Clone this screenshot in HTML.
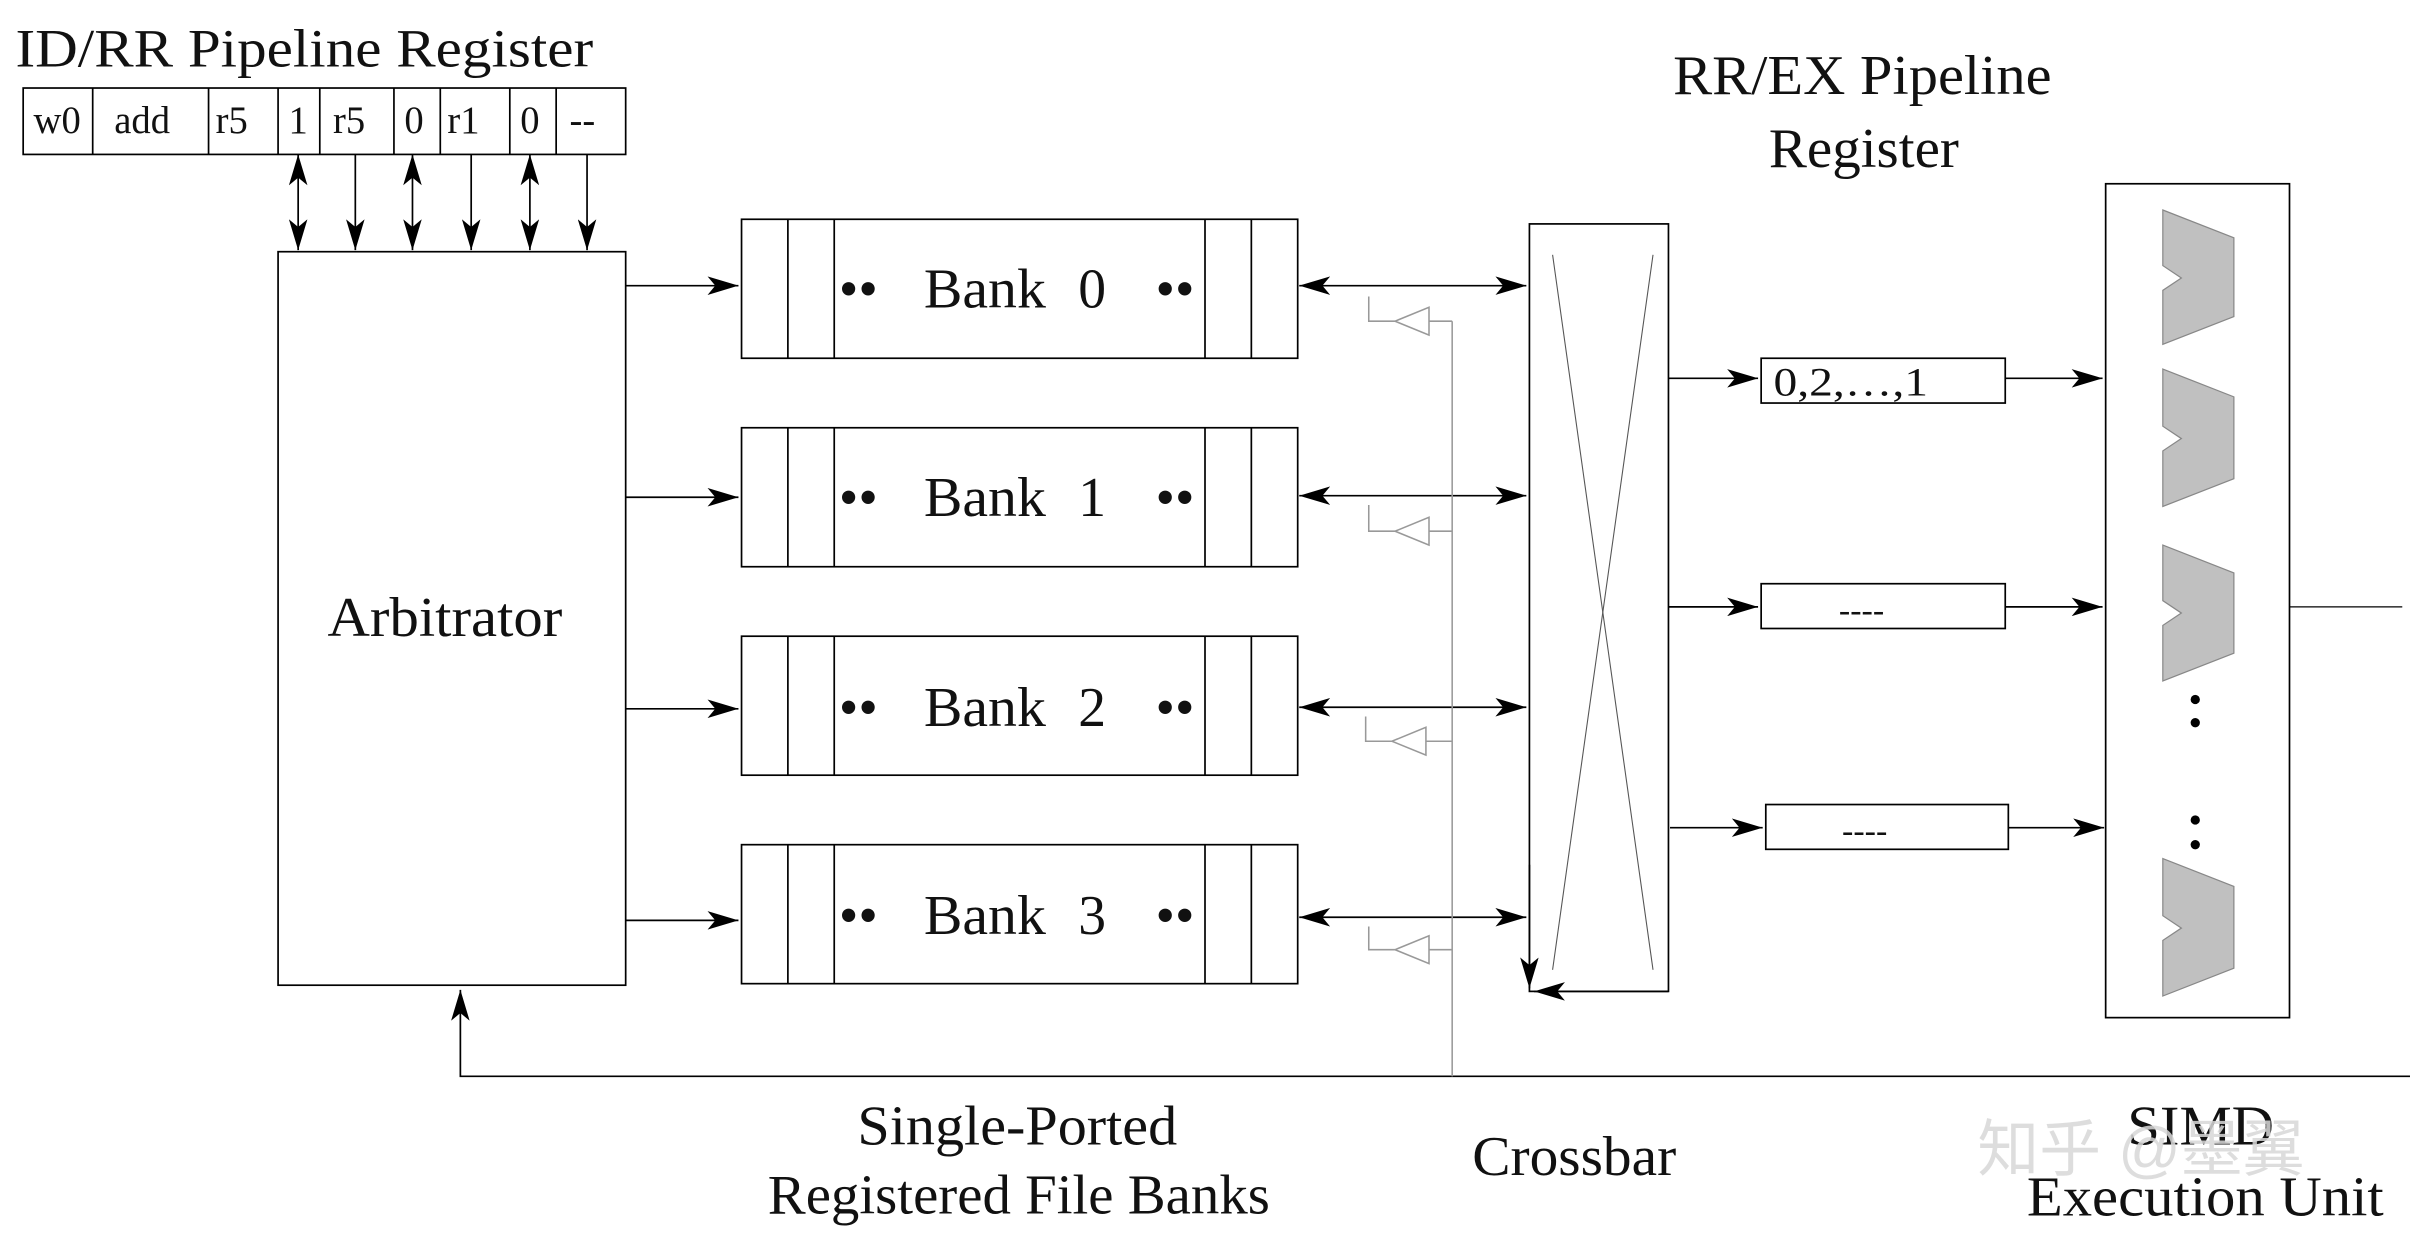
<!DOCTYPE html>
<html><head><meta charset="utf-8"><style>
html,body{margin:0;padding:0;background:#fff;}
svg{display:block;}
text{font-family:"Liberation Serif",serif;fill:#111;}
</style></head><body>
<svg width="2410" height="1240" viewBox="0 0 1560 803" preserveAspectRatio="none" xmlns="http://www.w3.org/2000/svg">
<defs>
<marker id="a" viewBox="0 0 20 12" refX="20" refY="6" markerWidth="20" markerHeight="12" markerUnits="userSpaceOnUse" orient="auto-start-reverse">
<path d="M0,0 L20,6 L0,12 L5,6 Z" fill="#000"/>
</marker>
</defs>
<g stroke="#000" stroke-width="1.1" fill="none">
<rect x="15" y="57" width="390" height="43"/>
<path d="M60,57V100M135,57V100M180,57V100M207,57V100M255,57V100M285,57V100M330,57V100M360,57V100"/>
<line x1="193" y1="100" x2="193" y2="162" marker-start="url(#a)" marker-end="url(#a)"/>
<line x1="230" y1="100" x2="230" y2="162" marker-end="url(#a)"/>
<line x1="267" y1="100" x2="267" y2="162" marker-start="url(#a)" marker-end="url(#a)"/>
<line x1="305" y1="100" x2="305" y2="162" marker-end="url(#a)"/>
<line x1="343" y1="100" x2="343" y2="162" marker-start="url(#a)" marker-end="url(#a)"/>
<line x1="380" y1="100" x2="380" y2="162" marker-end="url(#a)"/>
<rect x="180" y="163" width="225" height="475"/>
<g id="bk">
<rect x="480" y="142" width="360" height="90"/>
<path d="M510,142V232M540,142V232M780,142V232M810,142V232"/>
</g>
<use href="#bk" y="135"/><use href="#bk" y="270"/><use href="#bk" y="405"/>
<line x1="405" y1="185" x2="478" y2="185" marker-end="url(#a)"/>
<line x1="405" y1="322" x2="478" y2="322" marker-end="url(#a)"/>
<line x1="405" y1="459" x2="478" y2="459" marker-end="url(#a)"/>
<line x1="405" y1="596" x2="478" y2="596" marker-end="url(#a)"/>
<line x1="841" y1="185" x2="988" y2="185" marker-start="url(#a)" marker-end="url(#a)"/>
<line x1="841" y1="321" x2="988" y2="321" marker-start="url(#a)" marker-end="url(#a)"/>
<line x1="841" y1="458" x2="988" y2="458" marker-start="url(#a)" marker-end="url(#a)"/>
<line x1="841" y1="594" x2="988" y2="594" marker-start="url(#a)" marker-end="url(#a)"/>
<polyline points="1560,697 298,697 298,641" marker-end="url(#a)"/>
<rect x="990" y="145" width="90" height="497"/>
<line x1="990" y1="560" x2="990" y2="640" marker-end="url(#a)"/>
<line x1="1080" y1="642" x2="993" y2="642" marker-end="url(#a)"/>
<line x1="1080" y1="245" x2="1138" y2="245" marker-end="url(#a)"/>
<line x1="1080" y1="393" x2="1138" y2="393" marker-end="url(#a)"/>
<line x1="1081" y1="536" x2="1141" y2="536" marker-end="url(#a)"/>
<rect x="1140" y="232" width="158" height="29"/>
<rect x="1140" y="378" width="158" height="29"/>
<rect x="1143" y="521" width="157" height="29"/>
<line x1="1298" y1="245" x2="1361" y2="245" marker-end="url(#a)"/>
<line x1="1298" y1="393" x2="1361" y2="393" marker-end="url(#a)"/>
<line x1="1300" y1="536" x2="1362" y2="536" marker-end="url(#a)"/>
<rect x="1363" y="119" width="119" height="540"/>
<line x1="1482" y1="393" x2="1555" y2="393" stroke-width="0.8"/>
</g>
<g stroke="#555" stroke-width="0.7">
<line x1="1005" y1="165" x2="1070" y2="628"/>
<line x1="1070" y1="165" x2="1005" y2="628"/>
</g>
<g stroke="#999" stroke-width="1" fill="#fff">
<line x1="940" y1="208" x2="940" y2="697"/>
<polyline points="886,192 886,208 903,208" fill="none"/>
<polygon points="903,208 925,199 925,217"/><line x1="925" y1="208" x2="940" y2="208"/>
<polyline points="886,327 886,344 903,344" fill="none"/>
<polygon points="903,344 925,335 925,353"/><line x1="925" y1="344" x2="940" y2="344"/>
<polyline points="884,464 884,480 901,480" fill="none"/>
<polygon points="901,480 923,471 923,489"/><line x1="923" y1="480" x2="940" y2="480"/>
<polyline points="886,600 886,615 903,615" fill="none"/>
<polygon points="903,615 925,606 925,624"/><line x1="925" y1="615" x2="940" y2="615"/>
</g>
<g fill="#c0c0c0" stroke="#888" stroke-width="0.8">
<polygon points="1400,136 1446,154 1446,205 1400,223 1400,188 1412,180 1400,172"/>
<polygon points="1400,239 1446,257 1446,310 1400,328 1400,292 1412,284 1400,276"/>
<polygon points="1400,353 1446,371 1446,423 1400,441 1400,405 1412,397 1400,389"/>
<polygon points="1400,556 1446,574 1446,627 1400,645 1400,609 1412,601 1400,593"/>
</g>
<g fill="#000">
<circle cx="1421" cy="453" r="3"/><circle cx="1421" cy="468" r="3"/>
<circle cx="1421" cy="531" r="3"/><circle cx="1421" cy="547" r="3"/>
</g>
<text x="10" y="43" font-size="35" textLength="374" lengthAdjust="spacingAndGlyphs">ID/RR Pipeline Register</text>
<g font-size="25" text-anchor="middle">
<text x="37" y="86">w0</text><text x="92" y="86">add</text><text x="150" y="86">r5</text>
<text x="193" y="86">1</text><text x="226" y="86">r5</text><text x="268" y="86">0</text>
<text x="300" y="86">r1</text><text x="343" y="86">0</text><text x="377" y="86">--</text>
</g>
<text x="212" y="412" font-size="36" textLength="152" lengthAdjust="spacingAndGlyphs">Arbitrator</text>
<g font-size="36">
<text x="543" y="199">•• </text><text x="598" y="199" textLength="79" lengthAdjust="spacingAndGlyphs">Bank</text><text x="698" y="199">0</text><text x="748" y="199">••</text>
<text x="543" y="334">•• </text><text x="598" y="334" textLength="79" lengthAdjust="spacingAndGlyphs">Bank</text><text x="698" y="334">1</text><text x="748" y="334">••</text>
<text x="543" y="470">•• </text><text x="598" y="470" textLength="79" lengthAdjust="spacingAndGlyphs">Bank</text><text x="698" y="470">2</text><text x="748" y="470">••</text>
<text x="543" y="605">•• </text><text x="598" y="605" textLength="79" lengthAdjust="spacingAndGlyphs">Bank</text><text x="698" y="605">3</text><text x="748" y="605">••</text>
</g>
<text x="1148" y="256" font-size="26" textLength="100" lengthAdjust="spacingAndGlyphs">0,2,…,1</text>
<text x="1205" y="402" font-size="22" text-anchor="middle">----</text>
<text x="1207" y="545" font-size="22" text-anchor="middle">----</text>
<g font-size="36">
<text x="1083" y="61" textLength="245" lengthAdjust="spacingAndGlyphs">RR/EX Pipeline</text>
<text x="1145" y="108" textLength="123" lengthAdjust="spacingAndGlyphs">Register</text>
<text x="555" y="741" textLength="207" lengthAdjust="spacingAndGlyphs">Single-Ported</text>
<text x="497" y="786" textLength="325" lengthAdjust="spacingAndGlyphs">Registered File Banks</text>
<text x="953" y="761" textLength="132" lengthAdjust="spacingAndGlyphs">Crossbar</text>
<text x="1377" y="741" textLength="95" lengthAdjust="spacingAndGlyphs">SIMD</text>
<text x="1312" y="787" textLength="231" lengthAdjust="spacingAndGlyphs">Execution Unit</text>
</g>
<text x="1280" y="758" font-size="40" style="font-family:'Liberation Sans','Noto Sans CJK SC',sans-serif;fill:#d8d8d8;opacity:0.85">知乎 @墨翼</text>
</svg>
</body></html>
